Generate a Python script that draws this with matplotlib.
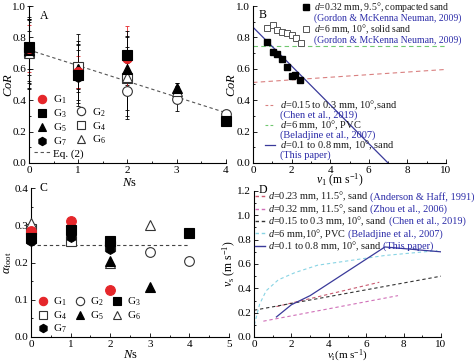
import matplotlib
matplotlib.use('Agg')
import matplotlib.pyplot as plt
from matplotlib.lines import Line2D
from matplotlib.legend import Legend
from matplotlib.ticker import MultipleLocator, FormatStrFormatter

plt.rcParams['font.family'] = ['Liberation Serif', 'DejaVu Serif']
plt.rcParams['mathtext.fontset'] = 'custom'
plt.rcParams['mathtext.rm'] = 'Liberation Serif'
plt.rcParams['mathtext.it'] = 'Liberation Serif:italic'
plt.rcParams['mathtext.bf'] = 'Liberation Serif:bold'

# ---------------- data ----------------
groups = ['G1', 'G2', 'G3', 'G4', 'G5', 'G6', 'G7']

# Panel A: CoR vs Ns
A_ns = {'G1': [0, 1, 2], 'G2': [0, 1, 2, 3, 4], 'G3': [0, 1, 2, 4],
        'G4': [0, 1, 2], 'G5': [0, 1, 2, 3], 'G6': [0, 1, 2, 3], 'G7': [0, 1, 2]}
A_cor = {'G1': [0.73, 0.58, 0.67], 'G2': [0.72, 0.58, 0.46, 0.41, 0.31],
         'G3': [0.74, 0.56, 0.69, 0.27], 'G4': [0.71, 0.61, 0.54],
         'G5': [0.72, 0.60, 0.60, 0.48], 'G6': [0.70, 0.60, 0.55, 0.46],
         'G7': [0.74, 0.55, 0.69]}
A_err = {'G1': [0.15, 0.10, 0.20], 'G2': [0.20, 0.20, 0.18, 0.08, 0.0],
         'G3': [0.26, 0.20, 0.15, 0.0], 'G4': [0.20, 0.21, 0.20],
         'G5': [0.12, 0.15, 0.10, 0.03], 'G6': [0.23, 0.12, 0.25, 0.05],
         'G7': [0.18, 0.08, 0.12]}
A_eq_ns = [0, 4]
A_eq_cor = [0.72, 0.32]

# Panel B: CoR vs v1
B_v_compacted = [0.74, 1.02, 1.26, 1.48, 1.74, 2.00, 2.20, 2.46]
B_cor_compacted = [0.770, 0.706, 0.696, 0.664, 0.611, 0.553, 0.562, 0.530]
B_v_solid = [0.74, 1.02, 1.26, 1.50, 1.74, 2.00, 2.24, 2.48]
B_cor_solid = [0.857, 0.877, 0.845, 0.834, 0.826, 0.815, 0.798, 0.766]
B_chen_v = [0, 10]
B_chen_cor = [0.513, 0.596]
B_pvc_v = [0, 10]
B_pvc_cor = [0.745, 0.745]
B_this_v = [0, 7]
B_this_cor = [0.865, 0.0]

# Panel C: alpha_foot vs Ns
C_ns = {'G1': [0, 1, 2], 'G2': [3, 4], 'G3': [0, 1, 2, 4], 'G4': [0, 1, 2],
        'G5': [0, 1, 2, 3], 'G6': [0, 1, 2, 3], 'G7': [0, 1, 2]}
C_alpha = {'G1': [0.285, 0.312, 0.125], 'G2': [0.227, 0.203],
           'G3': [0.265, 0.287, 0.257, 0.278], 'G4': [0.290, 0.257, 0.245],
           'G5': [0.270, 0.290, 0.205, 0.135], 'G6': [0.307, 0.300, 0.200, 0.302],
           'G7': [0.258, 0.268, 0.237]}
C_mean_ns = [0, 4]
C_mean_alpha = [0.248, 0.248]

# Panel D: vs vs vi
D_anderson_v = [1.2, 6.7]
D_anderson_vs = [0.25, 0.45]
D_zhou_v = [0.5, 7.7]
D_zhou_vs = [0.13, 0.34]
D_chen_v = [0, 10]
D_chen_vs = [0.22, 0.50]
D_pvc_v = [0.02, 0.3, 0.65, 1.3, 2.2, 3.4, 5.2, 7.0, 9.8]
D_pvc_vs = [0.10, 0.27, 0.38, 0.47, 0.53, 0.59, 0.63, 0.67, 0.71]
D_this_v = [1.2, 2, 3, 7, 10]
D_this_vs = [0.165, 0.265, 0.34, 0.74, 0.70]

# ---------------- styles ----------------
RED = '#e5262a'
BLUE = '#2b2ba8'
NAVY = '#3a3a9a'
TXT = '#1a1a1a'
style = {'G1': dict(marker='o', mfc=RED, mec=RED),
         'G2': dict(marker='o', mfc='white', mec='#333333'),
         'G3': dict(marker='s', mfc='black', mec='black'),
         'G4': dict(marker='s', mfc='white', mec='#333333'),
         'G5': dict(marker='^', mfc='black', mec='black'),
         'G6': dict(marker='^', mfc='white', mec='#333333'),
         'G7': dict(marker='h', mfc='black', mec='black')}
glabel = {g: 'G$_{%s}$' % g[1] for g in groups}

W, H = 474, 361
fig = plt.figure(figsize=(W / 100, H / 100), dpi=100)


def rect(l, t, r, b):
    return [l / W, 1 - b / H, (r - l) / W, (b - t) / H]


def style_ax(ax):
    for s in ['top', 'right']:
        ax.spines[s].set_visible(False)
    for s in ['left', 'bottom']:
        ax.spines[s].set_linewidth(0.8)
    ax.tick_params(which='both', direction='in', labelsize=8, width=0.6, pad=2)
    ax.tick_params(which='major', length=3)
    ax.tick_params(which='minor', length=1.5)


def handle(g, ms=6):
    return Line2D([], [], ls='none', ms=ms, mew=0.8, **style[g])


def figleg(ax, h, l, x, y, **kw):
    opts = dict(loc='upper left', frameon=False, bbox_to_anchor=(x / W, 1 - y / H),
                bbox_transform=fig.transFigure, borderpad=0, borderaxespad=0)
    opts.update(kw)
    leg = Legend(ax, h, l, **opts)
    ax.add_artist(leg)
    return leg


blank = Line2D([], [], ls='none')
draw_order = ['G2', 'G4', 'G6', 'G5', 'G1', 'G3', 'G7']

# ---------------- Panel A ----------------
axA = fig.add_axes(rect(29, 6, 226, 163))
style_ax(axA)
for g in draw_order:
    ec = RED if g == 'G1' else 'black'
    axA.errorbar(A_ns[g], A_cor[g], yerr=A_err[g], fmt='none', ecolor=ec,
                 elinewidth=0.6, capsize=1.5, capthick=0.6, zorder=1, clip_on=False)
axA.plot(A_eq_ns, A_eq_cor, ls=(0, (3, 2.5)), color='#555555', lw=0.8, zorder=2)
for g in draw_order:
    axA.plot(A_ns[g], A_cor[g], ls='none', ms=7, mew=0.8, zorder=3,
             clip_on=False, **style[g])
axA.set_xlim(0, 4)
axA.set_ylim(0, 1)
axA.xaxis.set_major_locator(MultipleLocator(1))
axA.xaxis.set_minor_locator(MultipleLocator(0.5))
axA.yaxis.set_major_locator(MultipleLocator(0.2))
axA.yaxis.set_minor_locator(MultipleLocator(0.1))
axA.yaxis.set_major_formatter(FormatStrFormatter('%.1f'))
axA.set_ylabel('$CoR$', fontsize=9)
axA.yaxis.set_label_coords(-0.071, 0.5)
axA.set_xlabel('$N$s', fontsize=9)
axA.xaxis.set_label_coords(0.51, -0.09)
axA.text(0.056, 0.935, 'A', transform=axA.transAxes, fontsize=8.5, va='center')
hA = [handle('G1'), handle('G3'), handle('G5'), handle('G7'),
      blank, handle('G2'), handle('G4'), handle('G6')]
lA = [glabel['G1'], glabel['G3'], glabel['G5'], glabel['G7'],
      '', glabel['G2'], glabel['G4'], glabel['G6']]
figleg(axA, hA, lA, 34, 94, ncol=2, fontsize=8, handlelength=1.4,
       handletextpad=0.35, columnspacing=0.5, labelspacing=0.12)
eq_h = Line2D([], [], ls=(0, (3, 2.5)), color='#555555', lw=0.8)
figleg(axA, [eq_h], ['Eq. (2)'], 34, 148.5, fontsize=8, handlelength=1.4,
       handletextpad=0.35)

# ---------------- Panel B ----------------
axB = fig.add_axes(rect(253, 6, 446, 163))
style_ax(axB)
axB.plot(B_chen_v, B_chen_cor, ls=(0, (4, 3)), color='#d98080', lw=0.8)
axB.plot(B_pvc_v, B_pvc_cor, ls=(0, (4, 3)), color='#70c870', lw=0.8)
axB.plot(B_this_v, B_this_cor, ls='-', color=NAVY, lw=0.9)
axB.plot(B_v_solid, B_cor_solid, ls='none', marker='s', ms=4.5, mfc='white',
         mec='#555555', mew=0.7)
axB.plot(B_v_compacted, B_cor_compacted, ls='none', marker='s', ms=4.5,
         mfc='black', mec='black')
axB.set_xlim(0, 10)
axB.set_ylim(0, 1)
axB.xaxis.set_major_locator(MultipleLocator(2))
axB.xaxis.set_minor_locator(MultipleLocator(1))
axB.yaxis.set_major_locator(MultipleLocator(0.2))
axB.yaxis.set_minor_locator(MultipleLocator(0.1))
axB.yaxis.set_major_formatter(FormatStrFormatter('%.1f'))
axB.set_ylabel('$CoR$', fontsize=9)
axB.yaxis.set_label_coords(-0.078, 0.5)
axB.set_xlabel('$v_1$ (m s$^{-1}$)', fontsize=8.5)
axB.xaxis.set_label_coords(0.45, -0.058)
axB.text(0.03, 0.94, 'B', transform=axB.transAxes, fontsize=8.5, va='center')

hB1 = [Line2D([], [], ls='none', marker='s', ms=4.5, mfc='black', mec='black'), blank,
       Line2D([], [], ls='none', marker='s', ms=4.5, mfc='white', mec='#555555', mew=0.7), blank]
lB1 = ['$d$=0.32 mm, 9.5°, compacted sand', '(Gordon & McKenna Neuman, 2009)',
       '$d$=6 mm, 10°, solid sand', '(Gordon & McKenna Neuman, 2009)']
legB1 = figleg(axB, hB1, lB1, 302.5, 0, fontsize=7.0, handlelength=0.8,
               handletextpad=0.35, labelspacing=-0.05)
for i, t in enumerate(legB1.get_texts()):
    t.set_color(BLUE if i % 2 else TXT)

hB2 = [Line2D([], [], ls=(0, (2.5, 2)), color='#d98080', lw=0.8), blank,
       Line2D([], [], ls=(0, (2.5, 2)), color='#70c870', lw=0.8), blank,
       Line2D([], [], ls='-', color=NAVY, lw=0.9), blank]
lB2 = ['$d$=0.15 to 0.3 mm, 10°,sand', '(Chen et al., 2019)',
       '$d$=6 mm, 10°, PVC', '(Beladjine et al., 2007)',
       '$d$=0.1 to 0.8 mm, 10°, sand', '(This paper)']
legB2 = figleg(axB, hB2, lB2, 265, 99, fontsize=7.5, handlelength=1.0,
               handletextpad=0.45, labelspacing=-0.15)
for i, t in enumerate(legB2.get_texts()):
    t.set_color(BLUE if i % 2 else TXT)

# ---------------- Panel C ----------------
axC = fig.add_axes(rect(31, 188, 229, 337))
style_ax(axC)
axC.plot(C_mean_ns, C_mean_alpha, ls=(0, (3, 2.5)), color='#444444', lw=0.8, zorder=1)
for g in draw_order:
    axC.plot(C_ns[g], C_alpha[g], ls='none', ms=7, mew=0.8, zorder=3,
             clip_on=False, **style[g])
axC.set_xlim(0, 5)
axC.set_ylim(0, 0.4)
axC.xaxis.set_major_locator(MultipleLocator(1))
axC.xaxis.set_minor_locator(MultipleLocator(0.5))
axC.yaxis.set_major_locator(MultipleLocator(0.1))
axC.yaxis.set_minor_locator(MultipleLocator(0.05))
axC.yaxis.set_major_formatter(FormatStrFormatter('%.1f'))
axC.set_ylabel(r'$\alpha_{\rm foot}$', fontsize=9)
axC.yaxis.set_label_coords(-0.086, 0.5)
axC.set_xlabel('$N$s', fontsize=9)
axC.xaxis.set_label_coords(0.5, -0.08)
axC.text(0.045, 1.0, 'C', transform=axC.transAxes, fontsize=8.5, va='center')
orderC = ['G1', 'G4', 'G7', 'G2', 'G5', 'G3', 'G6']
figleg(axC, [handle(g) for g in orderC], [glabel[g] for g in orderC], 37.5, 296,
       ncol=3, fontsize=8, handlelength=1.0, handletextpad=0.4,
       columnspacing=0.7, labelspacing=0.08)

# ---------------- Panel D ----------------
axD = fig.add_axes(rect(254, 191, 441, 337))
style_ax(axD)
c_and, c_zhou, c_chen, c_pvc = '#c85a70', '#d070b8', '#333333', '#88d4e4'
axD.plot(D_pvc_v, D_pvc_vs, ls=(0, (3, 2.5)), color=c_pvc, lw=0.8)
axD.plot(D_anderson_v, D_anderson_vs, ls=(0, (3, 2.5)), color=c_and, lw=0.8)
axD.plot(D_zhou_v, D_zhou_vs, ls=(0, (3, 2.5)), color=c_zhou, lw=0.8)
axD.plot(D_chen_v, D_chen_vs, ls=(0, (3, 2.5)), color=c_chen, lw=0.8)
axD.plot(D_this_v, D_this_vs, ls='-', color=NAVY, lw=0.9)
axD.set_xlim(0, 10)
axD.set_ylim(0, 1.2)
axD.xaxis.set_major_locator(MultipleLocator(2))
axD.xaxis.set_minor_locator(MultipleLocator(1))
axD.yaxis.set_major_locator(MultipleLocator(0.2))
axD.yaxis.set_minor_locator(MultipleLocator(0.1))
axD.yaxis.set_major_formatter(FormatStrFormatter('%.1f'))
axD.set_ylabel('$v_{\\rm s}$ (m s$^{-1}$)', fontsize=8.5)
axD.yaxis.set_label_coords(-0.085, 0.5)
axD.set_xlabel('$v_{\\rm i}$(m s$^{-1}$)', fontsize=8)
axD.xaxis.set_label_coords(0.5, -0.076)
axD.text(0.027, 1.01, 'D', transform=axD.transAxes, fontsize=8.5, va='center')
hD = [Line2D([], [], ls=(0, (2.5, 2)), color=c, lw=1.0)
      for c in [c_and, c_zhou, c_chen, c_pvc]] + \
     [Line2D([], [], ls='-', color=NAVY, lw=1.0)]
lD = ['$d$=0.23 mm, 11.5°, sand', '$d$=0.32 mm, 11.5°, sand',
      '$d$=0.15 to 0.3 mm, 10°, sand ', '$d$=6 mm,10°, PVC',
      '$d$=0.1 to 0.8 mm, 10°, sand']
citesD = ['(Anderson & Haff, 1991)', '(Zhou et al., 2006)', '(Chen et al., 2019)',
          '(Beladjine et al., 2007)', '(This paper)']
legD = figleg(axD, hD, lD, 255, 190, fontsize=7.4, handlelength=1.0,
              handletextpad=0.3, labelspacing=-0.1)
for t in legD.get_texts():
    t.set_color(TXT)

fig.canvas.draw()
inv = fig.transFigure.inverted()
for t, c in zip(legD.get_texts(), citesD):
    bb = t.get_window_extent()
    x, y = inv.transform((bb.x1 + 1.5, (bb.y0 + bb.y1) / 2))
    fig.text(x, y, c, va='center', ha='left', fontsize=7.4, color=BLUE)

fig.savefig('out.png', dpi=100)
